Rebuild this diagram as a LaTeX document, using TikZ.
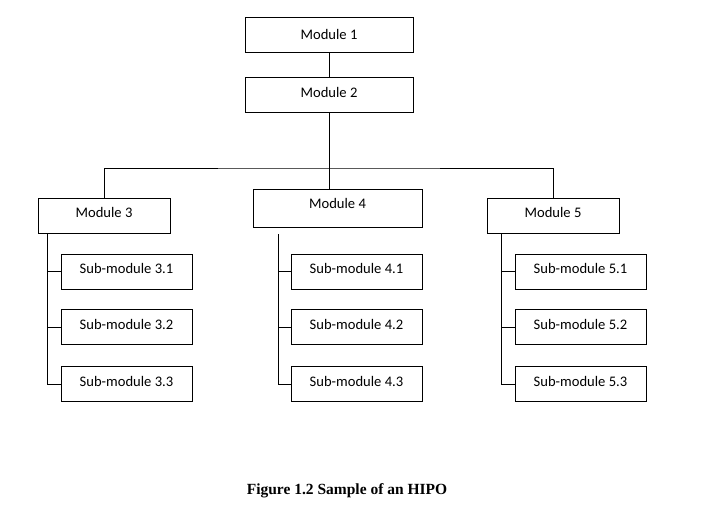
\documentclass[tikz,border=0pt]{standalone}
\usepackage{fontspec}
\setmainfont{Liberation Serif}
\newfontfamily\boxfont{Carlito}
\usetikzlibrary{positioning}

\begin{document}
\begin{tikzpicture}[x=1pt, y=-1pt,
    box/.style={draw=black, line width=0.9pt, rectangle, inner sep=0pt, font=\boxfont\fontsize{14.6}{17}\selectfont, text centered},
    topbox/.style={box, minimum width=168pt, minimum height=35pt},
    modbox/.style={box, minimum width=132pt, minimum height=35pt, text depth=7pt},
    subbox/.style={box, minimum width=131pt, minimum height=35pt, text depth=6pt},
    link/.style={black, line width=0.9pt}]
       \useasboundingbox (0,0) rectangle (715,508);

       %Defining nodes
       \node[topbox] (Module1) at (329,34.5) {Module 1};
       \node[topbox, text depth=6pt, below=25pt of Module1] (Module2) {Module 2};

       \node[modbox] (Module3) at (104,216) {Module 3};
       \node[box, minimum width=169pt, minimum height=38pt, text depth=10pt] (Module4) at (337.5,208) {Module 4};
       \node[modbox] (Module5) at (553,215.5) {Module 5};

       \node[subbox] (Sub31) at (126.5,271.5) {Sub-module 3.1};
       \node[subbox, below=20pt of Sub31] (Sub32) {Sub-module 3.2};
       \node[subbox, below=21pt of Sub32] (Sub33) {Sub-module 3.3};

       \node[subbox] (Sub41) at (356.5,271.5) {Sub-module 4.1};
       \node[subbox, below=20pt of Sub41] (Sub42) {Sub-module 4.2};
       \node[subbox, below=21pt of Sub42] (Sub43) {Sub-module 4.3};

       \node[subbox] (Sub51) at (580.5,271.5) {Sub-module 5.1};
       \node[subbox, below=20pt of Sub51] (Sub52) {Sub-module 5.2};
       \node[subbox, below=21pt of Sub52] (Sub53) {Sub-module 5.3};

       \node[font=\bfseries\fontsize{15.5}{18}\selectfont] (Caption) at (347,491) {Figure 1.2 Sample of an HIPO};

       %branch points
       \coordinate (Split) at (329,168);
       \coordinate (Top3) at ([xshift=10pt]Module3.south west);
       \coordinate (Top4) at ([xshift=26pt, yshift=-7pt]Module4.south west);
       \coordinate (Top5) at ([xshift=15pt]Module5.south west);

       %Drawing Diagram
       \draw[link] (Module1.south) -- (Module2.north);
       \draw[link] (Module2.south) -- (Module4.north -| Module2.south);
       \draw[link] (Module3.north) |- (Split) -| (Module5.north);

       \draw[link] (Top3) |- (Sub33.west);
       \draw[link] (Top3 |- Sub31.west) -- (Sub31.west);
       \draw[link] (Top3 |- Sub32.west) -- (Sub32.west);

       \draw[link] (Top4) |- (Sub43.west);
       \draw[link] (Top4 |- Sub41.west) -- (Sub41.west);
       \draw[link] (Top4 |- Sub42.west) -- (Sub42.west);

       \draw[link] (Top5) |- (Sub53.west);
       \draw[link] (Top5 |- Sub51.west) -- (Sub51.west);
       \draw[link] (Top5 |- Sub52.west) -- (Sub52.west);
\end{tikzpicture}
\end{document}
